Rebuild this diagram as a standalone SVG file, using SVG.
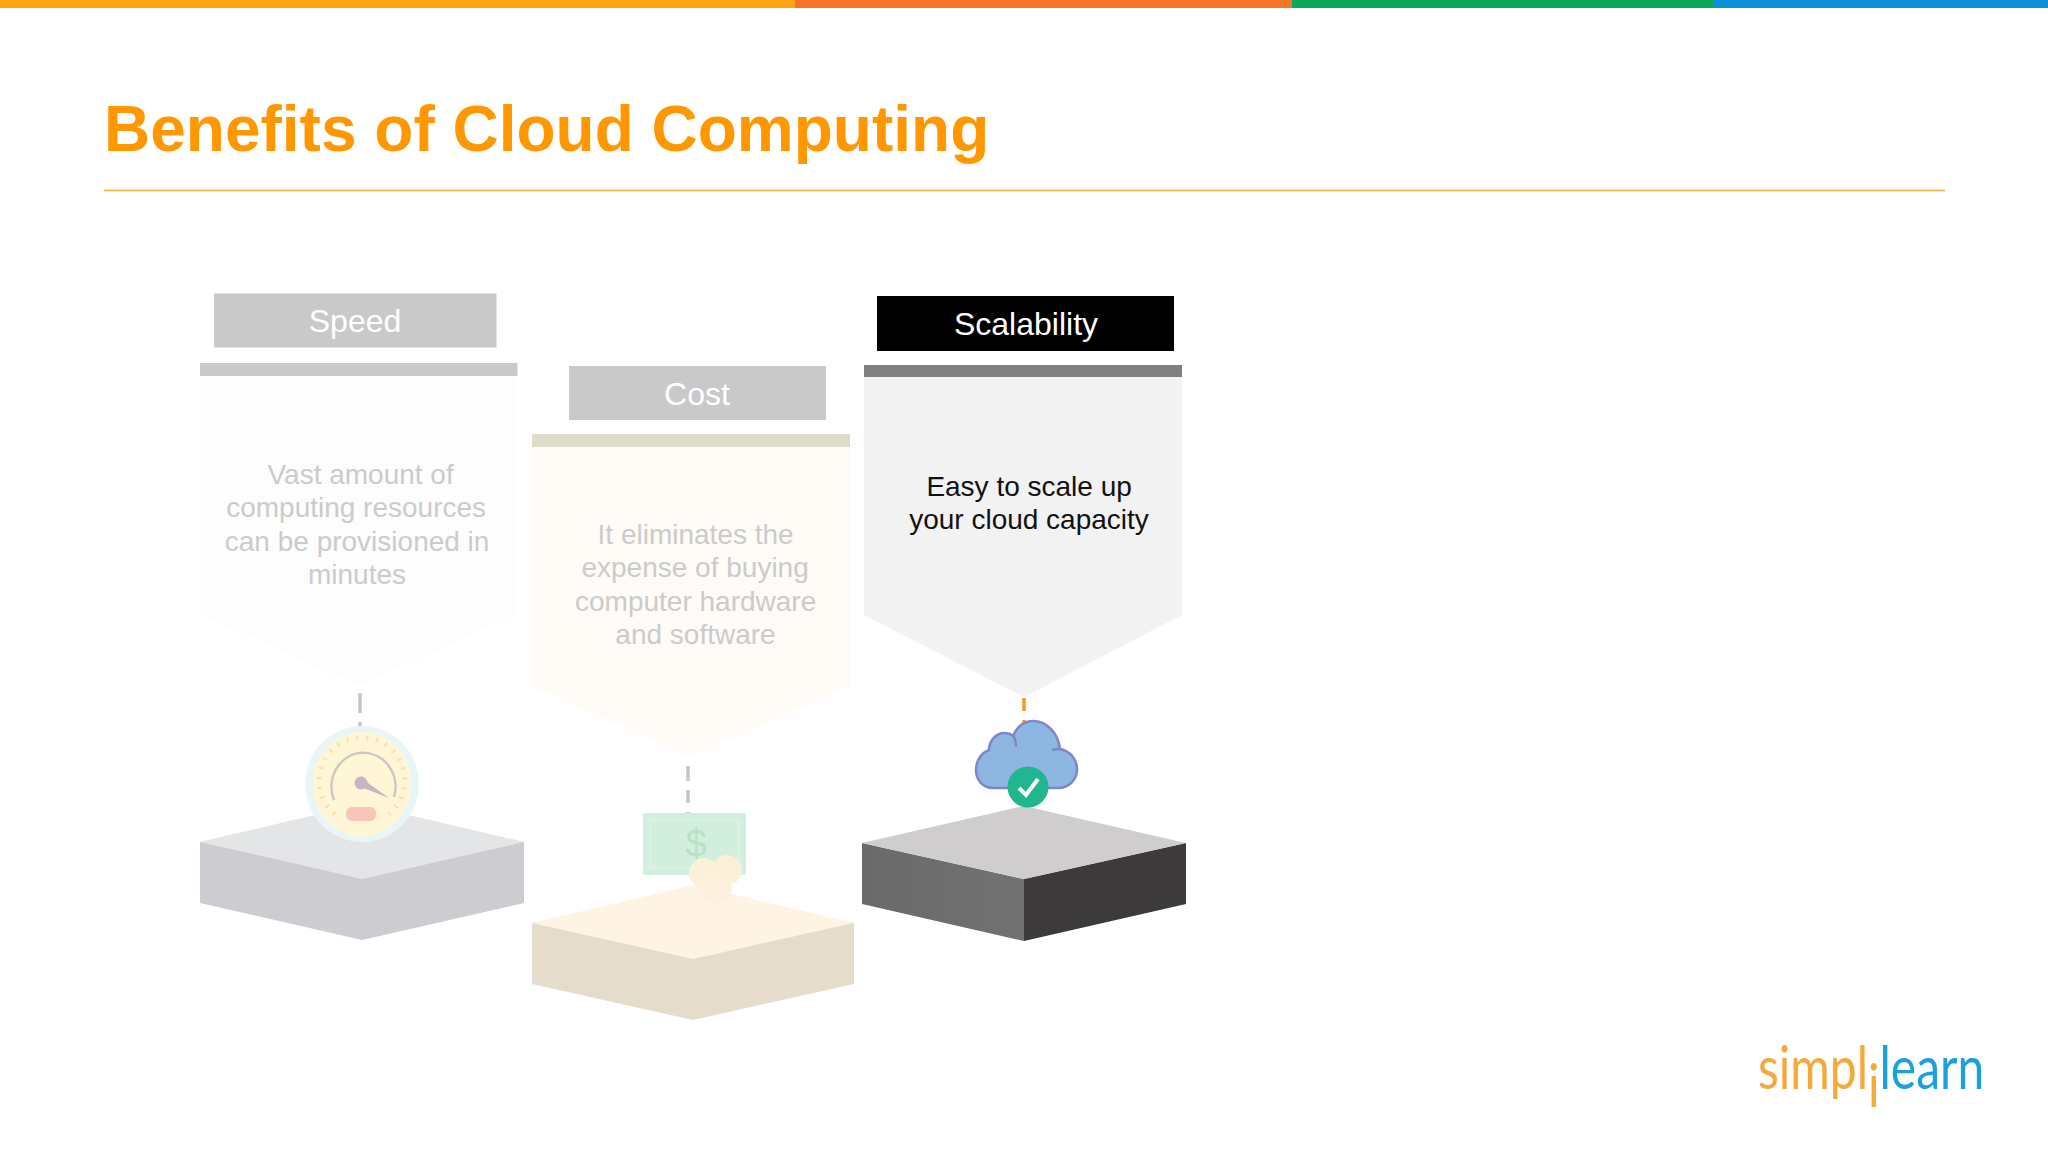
<svg xmlns="http://www.w3.org/2000/svg" width="2048" height="1152" viewBox="0 0 2048 1152">
  <defs>
    <linearGradient id="sideL" x1="0" x2="1" y1="0" y2="0"><stop offset="0" stop-color="#6a6a6a"/><stop offset="1" stop-color="#737273"/></linearGradient>
    <style>
      text { font-family: "Liberation Sans", Arial, sans-serif; }
      .label { font-size: 32px; fill: #fff; text-anchor: middle; }
      .body { font-size: 28px; text-anchor: middle; }
      .faded { fill: #cbcbcb; }
      .dash { stroke-width: 3.5; fill: none; }
      .logo { font-family: "Lato", "Open Sans", sans-serif; font-weight: 400; font-size: 60px; }
    </style>
  </defs>
  <rect width="2048" height="1152" fill="#fff"/>

  <g id="top-bar">
    <rect x="0" y="0" width="795" height="8" fill="#FFA515"/>
    <rect x="795" y="0" width="497" height="8" fill="#F47428"/>
    <rect x="1292" y="0" width="421" height="8" fill="#0BA85C"/>
    <rect x="1713" y="0" width="335" height="8" fill="#0E90D8"/>
  </g>

  <g id="title">
    <text x="104" y="151" font-size="64" font-weight="700" fill="#FF9800">Benefits of Cloud Computing</text>
    <rect x="104" y="189.7" width="1841" height="1.6" fill="#EFAE45"/>
  </g>

  <g id="connectors">
    <path class="dash" stroke="#c6c6c8" d="M360 693V713M360 722V727"/>
    <path class="dash" stroke="#c6c6c8" d="M688 766V781M688 790V803M688 812V815"/>
    <path class="dash" stroke="#F39A2B" d="M1024 698V711M1024 720V723"/>
  </g>

  <g id="speed">
    <path d="M200 376H517V614L359 686L200 614Z" fill="#fdfdfd"/>
    <rect x="200" y="363" width="317.500" height="13" fill="#c9c9c9"/>
    <rect x="214" y="293.500" width="282.500" height="54" fill="#c9c9c9"/>
    <text class="label" x="355" y="332">Speed</text>
    <text class="body faded">
      <tspan x="364.500" y="484">Vast amount of</tspan>
      <tspan x="360" y="517">computing resources</tspan>
      <tspan x="361" y="550.500">can be provisioned in</tspan>
      <tspan x="357" y="583.500">minutes</tspan>
    </text>
    <path d="M200 842L362 810L524 842V903L362 940L200 903Z" fill="#cdccd0"/>
    <path d="M200 842L362 804L524 842L362 879Z" fill="#e4e5e6"/>
    <ellipse cx="362" cy="784" rx="57" ry="58" fill="#eaf6f5"/>
    <ellipse cx="362" cy="784" rx="49" ry="52" fill="#fff6d6"/>
    <path d="M335 814A43 43 0 1 1 389 814" fill="none" stroke="#f6dfb0" stroke-width="5" stroke-dasharray="2 8"/>
    <path d="M334 800A32 34 0 1 1 394 797" fill="none" stroke="#cfc6c4" stroke-width="2.500"/>
    <path d="M356 785L361 778L389 798Z" fill="#c7b6bf"/>
    <circle cx="361" cy="783" r="6.500" fill="#c7b6bf"/>
    <rect x="346" y="807" width="30" height="14" rx="6" fill="#f6c7b8"/>
  </g>

  <g id="cost">
    <path d="M532 447H850V686L690 757L532 686Z" fill="#fffbf7"/>
    <rect x="532" y="434" width="318" height="13" fill="#e0dccc"/>
    <rect x="569" y="366" width="257" height="54" fill="#c9c9c9"/>
    <text class="label" x="697" y="405">Cost</text>
    <text class="body faded">
      <tspan x="699.500" y="544">It eliminates the</tspan>
      <tspan x="699" y="577">expense of buying</tspan>
      <tspan x="699.500" y="610.500">computer hardware</tspan>
      <tspan x="695.500" y="643.500">and software</tspan>
    </text>
    <path d="M532 923L693 888L854 923V984L693 1020L532 984Z" fill="#e5dccc"/>
    <path d="M532 923L693 885L854 923L693 959Z" fill="#fff4e4"/>
    <rect x="643" y="813" width="103" height="62" rx="3" fill="#d2efdd"/>
    <rect x="650" y="820" width="89" height="48" fill="none" stroke="#daf2e3" stroke-width="3"/>
    <text x="696" y="857" font-size="38" text-anchor="middle" fill="#b6e2c8">$</text>
    <circle cx="704" cy="873" r="15" fill="#fbf0d8"/>
    <circle cx="727" cy="870" r="15" fill="#fbefd6"/>
    <circle cx="716" cy="888" r="16" fill="#fdf1dd"/>
  </g>

  <g id="scalability">
    <path d="M864 377H1182V615L1024 697L864 615Z" fill="#f2f2f2"/>
    <rect x="864" y="365" width="318" height="12" fill="#808080"/>
    <rect x="877" y="296" width="297" height="55" fill="#000"/>
    <text class="label" x="1026" y="335">Scalability</text>
    <text class="body" fill="#111">
      <tspan x="1033" y="496">Easy to scale up</tspan>
      <tspan x="1029" dy="33">your cloud capacity</tspan>
    </text>
    <path d="M862 843L1024 879V941L862 904Z" fill="url(#sideL)"/>
    <path d="M1186 843L1024 879V941L1186 904Z" fill="#3c3a3b"/>
    <path d="M862 843L1024 806L1186 843L1024 879Z" fill="#cfcdce"/>
    <path d="M993 788C982 788 976 779 976 770C976 761 981 753 989 750C989 741 996 733 1004 733C1008 733 1011 734 1013 736C1017 726 1025 721 1033 721C1046 721 1058 732 1060 749C1070 751 1077 759 1077 769C1077 780 1069 788 1058 788Z" fill="#8db6e0" stroke="#7d87c9" stroke-width="2.500"/>
    <path d="M1013 736C1016 739 1016 744 1016 747M1052 750C1055 749 1058 749 1060 749" fill="none" stroke="#7d87c9" stroke-width="2.500"/>
    <circle cx="1028" cy="787" r="20.500" fill="#21b68f"/>
    <path d="M1019 788L1026 795L1038 779" fill="none" stroke="#fff" stroke-width="4"/>
  </g>

  <g id="logo">
    <text class="logo" transform="translate(1758 1089) scale(.8 1)" fill="#F5A93A">simpl<tspan dy="18">i</tspan><tspan dy="-18" fill="#1C9FDD">learn</tspan></text>
  </g>
</svg>
